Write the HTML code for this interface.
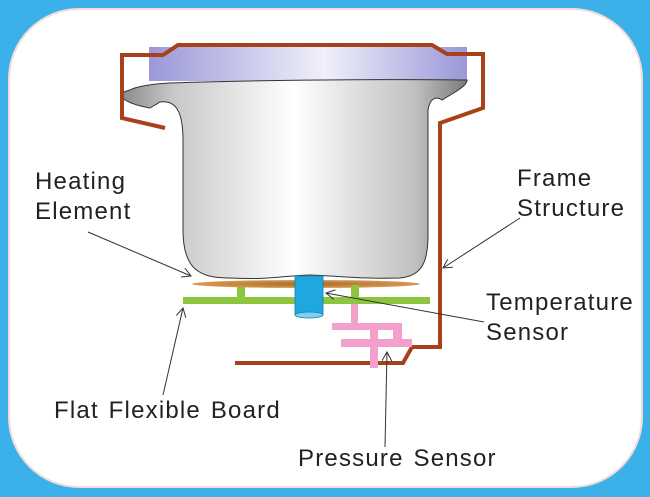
<!DOCTYPE html>
<html><head><style>
body{margin:0;width:650px;height:497px;background:#3cb0e8;position:relative;overflow:hidden;font-family:"Liberation Sans",Arial,sans-serif;}
.t{position:absolute;font-size:24px;color:#222;line-height:30px;letter-spacing:1.2px;word-spacing:2px;}
</style></head><body>
<svg width="650" height="497" style="position:absolute;left:0;top:0">
<defs>
<linearGradient id="pot" x1="0" x2="1"><stop offset="0" stop-color="#8a8a8a"/><stop offset="0.15" stop-color="#c8c8c8"/><stop offset="0.5" stop-color="#ffffff"/><stop offset="0.85" stop-color="#c0c0c0"/><stop offset="1" stop-color="#7a7a7a"/></linearGradient>
<linearGradient id="lid" x1="0" x2="1"><stop offset="0" stop-color="#9a98d8"/><stop offset="0.55" stop-color="#f0f0fa"/><stop offset="1" stop-color="#9a98d8"/></linearGradient>
<radialGradient id="heat"><stop offset="0" stop-color="#a86a2a"/><stop offset="1" stop-color="#d89850"/></radialGradient>
<marker id="a" markerWidth="10" markerHeight="10" refX="9" refY="5" orient="auto" markerUnits="userSpaceOnUse"><path d="M0,0 L9,5 L0,10" fill="none" stroke="#333" stroke-width="1"/></marker>
</defs>
<rect x="9" y="9" width="633" height="478" rx="70" fill="#fff" stroke="#f0dcd8" stroke-width="2"/>
<rect x="149" y="47" width="318" height="34" fill="url(#lid)"/>
<path d="M130,90 C110,95 128,104 150,108 L160,102 C175,100 183,110 183,140 L183,230 C183,270 200,278 230,278 C270,280 280,276 310,275 C340,276 360,279 400,278 C422,276 428,262 428,235 L428,110 C430,98 436,96 442,100 L452,94 C462,88 467,84 467,80 C400,79 250,80 170,83 C150,84 135,87 130,90 Z" fill="url(#pot)" stroke="#333" stroke-width="1"/>
<ellipse cx="306" cy="284" rx="114" ry="4" fill="url(#heat)"/>
<polyline points="165,128 122,118 122,55 163,55 178,45 432,45 447,54 483,54 483,108 440,123 440,347 412,347 403,363 235,363" fill="none" stroke="#a8401a" stroke-width="4"/>
<rect x="237" y="287" width="8" height="10" fill="#8cc63e"/>
<rect x="351" y="285" width="8" height="12" fill="#8cc63e"/>
<rect x="183" y="297" width="247" height="7" fill="#8cc63e"/>
<rect x="295" y="276" width="28" height="39" fill="#1fa8e0" stroke="#1480b0" stroke-width="0.8"/>
<ellipse cx="309" cy="315" rx="14" ry="3" fill="#7fd0f0" stroke="#1480b0" stroke-width="0.8"/>
<g fill="#f4a0cc">
<rect x="351" y="304" width="7" height="20"/>
<rect x="332" y="323" width="70" height="7"/>
<rect x="393" y="323" width="9" height="24"/>
<rect x="341" y="339" width="71" height="8"/>
<rect x="370" y="323" width="8" height="45"/>
</g>
<g stroke="#333" stroke-width="1" fill="none">
<line x1="88" y1="232" x2="191" y2="276" marker-end="url(#a)"/>
<line x1="520" y1="218" x2="443" y2="268" marker-end="url(#a)"/>
<line x1="484" y1="322" x2="326" y2="293" marker-end="url(#a)"/>
<line x1="163" y1="395" x2="183" y2="308" marker-end="url(#a)"/>
<line x1="385" y1="447" x2="387" y2="352" marker-end="url(#a)"/>
</g>
</svg>
<div class="t" style="left:35px;top:167px">Heating<br>Element</div>
<div class="t" style="left:517px;top:164px">Frame<br>Structure</div>
<div class="t" style="left:486px;top:288px">Temperature<br>Sensor</div>
<div class="t" style="left:54px;top:396px">Flat Flexible Board</div>
<div class="t" style="left:298px;top:444px">Pressure Sensor</div>
</body></html>
